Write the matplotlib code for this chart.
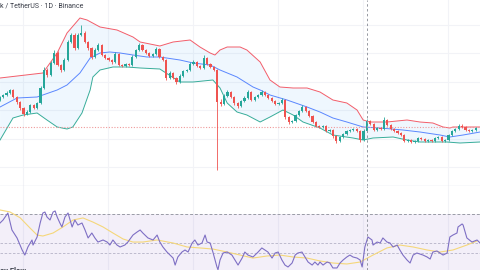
import numpy as np
import matplotlib
matplotlib.use("Agg")
import matplotlib.pyplot as plt

# ---------------- data ----------------
first_open = 100
closes = [103, 105, 107, 110, 103, 98, 92, 86, 88, 95,
          92, 97, 112, 130, 125, 137, 147, 135, 130, 140,
          158, 165, 152, 165, 167, 158, 152, 143, 150, 155,
          145, 142, 140, 138, 146, 135, 134, 136, 135, 143,
          150, 155, 150, 147, 144, 146, 151, 143, 140, 122,
          127, 122, 118, 124, 129, 130, 136, 138, 134, 132,
          142, 136, 133, 130, 98, 96, 104, 108, 103, 97,
          94, 99, 102, 108, 100, 103, 105, 108, 105, 102,
          99, 96, 97, 100, 83, 78, 79, 85, 89, 93,
          89, 84, 78, 74, 73, 74, 69, 70, 64, 59,
          63, 66, 69, 70, 71, 69, 60, 69, 79, 76,
          70, 72, 71, 80, 75, 71, 69, 67, 65, 59,
          60, 58, 59, 62, 61, 59, 60, 59, 62, 63,
          59, 60, 65, 69, 71, 74, 73.5, 70, 69, 70,
          72]
wick_up = [1, 1, 2, 1, 1, 1, 1, 1, 2, 1,
           1, 1, 2, 3, 2, 2, 3, 2, 1, 2,
           2, 2, 2, 2, 8, 2, 1, 1, 2, 2,
           1, 1, 1, 1, 2, 1, 1, 1, 1, 2,
           1, 2, 1, 1, 1, 1, 2, 1, 1, 1,
           2, 1, 1, 2, 1, 1, 2, 2, 1, 1,
           3, 1, 1, 1, 1, 3, 2, 2, 1, 1,
           1, 1, 2, 2, 1, 1, 1, 2, 1, 1,
           1, 1, 1, 2, 1, 1, 1, 1, 1, 2,
           1, 1, 1, 1, 1, 1, 1, 1, 1, 1,
           1, 1, 1, 1, 1, 1, 1, 2, 2, 1,
           1, 1, 1, 3, 1, 1, 1, 1, 1, 1,
           1, 1, 1, 1, 1, 1, 1, 1, 1, 1,
           1, 1, 1, 1, 1, 2, 2, 1, 1, 1,
           1]
wick_dn = [1, 1, 1, 1, 1, 2, 2, 2, 1, 1,
           1, 1, 1, 1, 2, 1, 1, 1, 2, 1,
           1, 1, 2, 1, 1, 1, 2, 2, 1, 1,
           1, 1, 1, 2, 1, 1, 1, 1, 1, 1,
           1, 1, 1, 1, 1, 1, 1, 1, 1, 2,
           1, 1, 2, 1, 1, 1, 1, 1, 1, 1,
           1, 1, 1, 1, 68, 2, 1, 1, 1, 2,
           2, 1, 1, 1, 1, 1, 1, 1, 1, 1,
           1, 1, 1, 1, 2, 2, 1, 1, 1, 1,
           1, 1, 1, 1, 1, 1, 1, 1, 2, 2,
           1, 1, 1, 1, 1, 1, 2, 1, 1, 1,
           1, 1, 1, 1, 1, 1, 1, 1, 1, 1,
           1, 1, 1, 1, 1, 1, 1, 1, 1, 1,
           1, 1, 1, 1, 1, 1, 1, 1, 1, 1,
           1]

# Bollinger bands (read at positions along the candle index axis)
upper_idx = [0.1, 12.7, 16.9, 19.8, 23.6, 25.7, 29.5, 34.5, 39.2, 41.3, 47.1, 51, 56, 58.9,
             61.9, 63.3, 64.8, 66.9, 70.7, 72.7, 76.6, 79.5, 82.4, 86.3, 90.4, 94.2, 98,
             102.1, 105.1, 106.9, 108.9, 113.9, 119.8, 123.6, 127.4, 130.4, 132.4, 133.3,
             137.4, 141.3]
upper_val = [122, 127, 147, 167, 182, 180, 173, 170, 163, 158, 154, 158, 160, 153,
             147, 145, 150, 153, 153, 150, 138, 120, 113, 112, 112, 108, 100,
             97, 90, 80, 78, 78, 80, 78, 77, 73, 72, 73,
             73, 73]
mid_idx = [0.1, 5.1, 11, 16.9, 19.8, 23.6, 26.6, 29.5, 32.4, 35.4, 39.2, 43.3, 47.1, 53,
           56.9, 61.9, 64.8, 69.8, 74.5, 76.6, 79.5, 84.5, 90.4, 94.2, 98, 102.1, 106.9,
           111.9, 118.6, 123.6, 129.5, 132.4, 136.3, 141.3]
mid_val = [93, 102, 103, 110, 115, 127, 142, 147, 148, 147, 145, 143, 143, 140,
           137, 135, 130, 123, 113, 110, 105, 100, 93, 88, 82, 78, 73,
           72, 70, 68, 65, 63, 65, 68]
lower_idx = [0.1, 3.9, 6.9, 11, 13.9, 16.9, 19.8, 21.5, 24.2, 26.6, 27.4, 29.5, 33.3, 37.4,
             41.3, 47.1, 53, 56.9, 62.7, 64.8, 66.9, 69.8, 72.7, 76.6, 79.5, 83.3, 86.3,
             89.2, 94.2, 98, 103.9, 106.9, 109.8, 115.7, 119.8, 123.6, 131.5, 135.4, 141.3]
lower_val = [60, 82, 85, 87, 80, 73, 71, 73, 87, 110, 123, 130, 133, 133,
             132, 131, 118, 118, 120, 112, 97, 88, 85, 78, 83, 90, 85,
             78, 72, 65, 62, 60, 62, 63, 60, 58, 58, 57, 58]

# Money flow oscillator and its average
mf_idx = [0.1, 1.0, 2.4, 3.6, 5.1, 6.6, 7.4, 8.3, 9.5, 9.8, 11, 11.9, 12.7, 13.3, 13.9,
          14.8, 15.7, 16.3, 16.9, 17.7, 18.3, 19.2, 20.1, 21.3, 22.1, 23, 24.2, 25.1,
          26, 27.1, 28, 28.9, 30.4, 31.6, 32.4, 33.3, 34.5, 35.4, 36.8, 37.7, 39.2,
          40.4, 41.3, 42.1, 43.6, 45.1, 46.3, 47.1, 48, 49.2, 50.1, 51, 51.6, 52.4,
          53.6, 54.5, 55.4, 56.6, 57.4, 58.3, 59.5, 60.4, 61, 61.9, 62.7, 63.9, 64.2,
          64.8, 65.7, 66.9, 68.3, 69.2, 70.1, 71.3, 72.1, 73, 74.5, 76, 77.1, 78,
          78.9, 80.1, 81, 81.9, 83, 83.9, 84.8, 86, 86.9, 87.7, 88.9, 89.8, 90.7,
          91.9, 92.7, 93.6, 94.2, 95.1, 96.3, 97.1, 98, 99.2, 100.1, 101, 102.1, 103,
          103.9, 105.1, 106, 106.6, 107.4, 108.3, 109.5, 109.8, 111, 111.9, 112.7,
          113.9, 114.8, 115.7, 116.9, 117.7, 118.6, 119.8, 120.7, 121.6, 122.7,
          123.6, 124.5, 125.7, 126.6, 127.4, 128.6, 129.5, 130.4, 131.6, 132.4,
          133.3, 134.5, 134.8, 136, 136.3, 137.4, 138.9, 140.4, 141.3]
mf_val = [70.6, 73.7, 80.9, 63.4, 55.2, 42.8, 37.6, 45.9, 53.1, 47.9, 56.2, 70.6, 80.9, 81.9, 76.8,
          73.7, 81.9, 83, 76.8, 70.6, 66.5, 76.8, 80.9, 66.5, 73.7, 68.5, 70.6, 63.4,
          55.2, 60.3, 55.2, 51, 53.1, 51, 47.9, 53.1, 47.9, 45.9, 47.9, 51, 58.2,
          61.3, 63.4, 60.3, 55.2, 53.1, 58.2, 51, 45.9, 40.7, 37.6, 34.5, 27.3, 35.6,
          40.7, 42.8, 40.7, 50, 53.1, 47.9, 50, 58.2, 51, 50, 40.7, 25.3, 22.5,
          32.5, 39.7, 40.7, 37.6, 32.5, 27.3, 34.5, 40.7, 37.6, 35.6, 40.7, 44.9, 42.8,
          40.7, 34.5, 39.7, 40.7, 32.5, 27.3, 25.3, 29.4, 37.6, 39.7, 40.7, 35.6, 30.4,
          27.3, 30.4, 27.3, 30.4, 27.3, 30.4, 29.4, 24.3, 24.3, 29.4, 32.5, 35.6, 37.6,
          35.6, 34.5, 32.5, 25.3, 45.9, 56.2, 53.1, 47.9, 51, 50, 55.2,
          51, 50, 45.9, 47.9, 42.8, 37.6, 32.5, 29.4, 37.6, 39.7,
          38.7, 37.6, 35.6, 33.5, 40.7, 41.8, 39.7, 37.6, 39.7, 56.2,
          58.2, 60.3, 66.5, 69.6, 68.5, 55.2, 51, 53.1, 50]
avg_idx = [0.1, 3, 6, 8.9, 11, 12.7, 15.7, 18.6, 21.6, 24.5, 27.4, 30.4, 33.3, 36.3, 39.2,
           42.1, 46.3, 51, 55.1, 58.9, 62.7, 66.9, 70.7, 74.5, 78.6, 82.4, 86.3, 90.4,
           94.2, 98, 102.1, 106, 109.8, 113.9, 117.7, 121.6, 125.7, 129.5, 133.3, 137.4, 140.4]
avg_val = [84, 82, 76, 65.5, 58.2, 57.2, 60.3, 66.5, 73.7, 75.8, 71.6, 66.5, 60.3, 54.1, 51,
           51, 53.1, 50, 45.9, 44.9, 43.8, 40.7, 37.6, 34.5, 36.6, 37.6, 35.6, 34.5,
           31.5, 29.4, 28.4, 30.4, 37.6, 44.9, 47.9, 45.9, 42.8, 40.7, 42.8, 47.9, 52.1]
levels = [80, 50, 40]
title_text = "k / TetherUS · 1D · Binance"
pane_text = "ey Flow"

# ---------------- figure ----------------
W, H = 480, 270
fig = plt.figure(figsize=(W / 100, H / 100), dpi=100)
fig.patch.set_facecolor("white")
split = 186
ax = fig.add_axes([0, (H - split) / H, 1, split / H])
ax2 = fig.add_axes([0, 0, 1, (H - split) / H])

step = 3.4
off = -0.3
xlim = ((0 - off) / step, (W - off) / step)

GREEN = "#26a69a"
RED = "#ef5350"
GRID = "#f2f3f7"

for a in (ax, ax2):
    a.set_xlim(*xlim)
    a.axis("off")
    a.set_facecolor("white")

ax.set_ylim(14, 200)
ax2.set_ylim(22.2, 108.7)

# faint grid
for gx in [6.85, 31.9, 56.85, 81.85, 106.85, 131.85]:
    ax.axvline(gx, color=GRID, lw=0.8, zorder=0)
    ax2.axvline(gx, color=GRID, lw=0.8, zorder=0)
for gy in [175, 147, 118, 90, 61, 33]:
    ax.axhline(gy, color=GRID, lw=0.8, zorder=0)

# bands
poly_x = list(upper_idx) + list(lower_idx[::-1])
poly_y = list(upper_val) + list(lower_val[::-1])
ax.fill(poly_x, poly_y, color="#2196f3", alpha=0.07, lw=0, zorder=1)
ax.plot(upper_idx, upper_val, color="#f23645", lw=0.7, alpha=0.8, zorder=2)
ax.plot(lower_idx, lower_val, color="#089981", lw=0.7, alpha=0.8, zorder=2)
ax.plot(mid_idx, mid_val, color="#2962ff", lw=0.7, alpha=0.75, zorder=2)

# candles
closes_a = np.array(closes, dtype=float)
opens_a = np.concatenate([[first_open], closes_a[:-1]])
idx = np.arange(len(closes_a))
top = np.maximum(opens_a, closes_a)
bot = np.minimum(opens_a, closes_a)
highs = top + np.array(wick_up)
lows = bot - np.array(wick_dn)
colors = [GREEN if c >= o else RED for o, c in zip(opens_a, closes_a)]
ax.vlines(idx, lows, highs, colors=colors, lw=0.6, zorder=3)
heights = np.maximum(top - bot, 0.7)
ax.bar(idx, heights, bottom=bot, width=0.68, color=colors, lw=0, zorder=4)

# current price line
ax.axhline(73, color="#ef9a9a", lw=0.8, ls=(0, (1, 1.5)), zorder=2)

# crosshair
for a in (ax, ax2):
    a.axvline(108, color="#9598a1", lw=0.7, ls=(0, (2.5, 2.5)), zorder=6)

# separator
ax.axhline(14.3, color="#e0e3eb", lw=1.0, zorder=6)

# lower pane
ax2.axhspan(20, levels[0], color="#7e57c2", alpha=0.09, lw=0, zorder=1)
ax2.axhline(levels[0], color="#9a9ca6", lw=0.7, ls=(0, (3, 2)), zorder=2)
for lv in levels[1:]:
    ax2.axhline(lv, color="#b5b3c7", lw=0.6, ls=(0, (3, 2)), zorder=2)
ax2.plot(avg_idx, avg_val, color="#f5d77a", lw=0.8, zorder=3)
ax2.plot(mf_idx, mf_val, color="#7e6fc4", lw=0.8, zorder=4)

# texts
fig.text(0.5 / W, 1 - 6 / H, title_text, fontsize=5, color="#3b3f4a",
         family="Roboto", va="center", ha="left")
fig.text(0.5 / W, 2.5 / H, pane_text, fontsize=5.5, color="#3b3f4a",
         family="Roboto", fontweight="bold", va="top", ha="left")

fig.savefig("out.png", dpi=100, facecolor="white")
